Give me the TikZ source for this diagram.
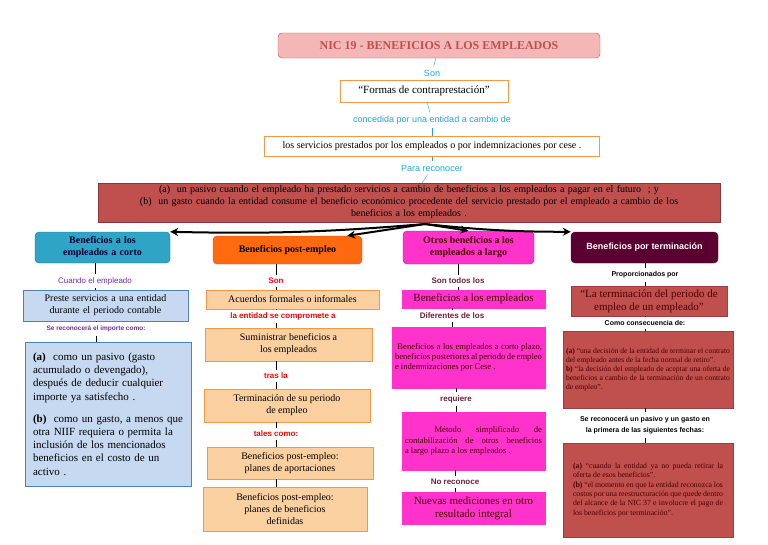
\documentclass[tikz,border=0pt]{standalone}
\usepackage{fontspec}
\usetikzlibrary{arrows.meta,calc}
\setmainfont{Liberation Serif}
\newfontfamily\sansf{Liberation Sans}
\def\F#1{\fontsize{#1pt}{\dimexpr#1pt*6/5\relax}\selectfont}
\hyphenpenalty=10000 \exhyphenpenalty=10000
\begin{document}
\begin{tikzpicture}[x=1pt,y=-1pt,
 bx/.style={draw,rectangle,inner sep=2pt,align=center},
 lab/.style={font=\sansf\F{8}},
 ln/.style={draw=black,line width=0.8pt},
 arr/.style={draw=black,line width=2pt,-{Stealth[length=8pt,width=8pt]}}]
\definecolor{tred}{HTML}{F4B7B7}
\definecolor{brick}{HTML}{C0504D}
\definecolor{lor}{HTML}{FBD0A0}
\definecolor{oline}{HTML}{F79646}
\definecolor{lbl}{HTML}{C6D9F1}
\definecolor{bline}{HTML}{4F81BD}
\definecolor{cyanb}{HTML}{2EA5C4}
\definecolor{orb}{HTML}{FF6A10}
\definecolor{mag}{HTML}{FF33CC}
\definecolor{dkr}{HTML}{5A0030}
\definecolor{cyt}{HTML}{1EA8D8}
\definecolor{pur}{HTML}{7030A0}
\definecolor{mtxt}{HTML}{6E1F3A}
\useasboundingbox[fill=white] (0,0) rectangle (768,544);
\tikzset{r/.style={rounded corners=4pt}}
% top chain
\node[bx,r,fill=tred,draw=brick,minimum width=322,minimum height=25,text=brick,font=\bfseries\F{12}] (t) at (439,45.5) {NIC 19 - BENEFICIOS A LOS EMPLEADOS};
\node[bx,fill=white,draw=oline,line width=1pt,minimum width=168,minimum height=22,font=\F{11}] (f) at (424,91) {``Formas de contraprestación''};
\node[bx,fill=white,draw=oline,line width=1pt,minimum width=335,minimum height=20,font=\F{10}] (s) at (432,146) {los servicios prestados por los empleados o por indemnizaciones por cese~.};
\node[bx,fill=brick,draw=brick!70!black,minimum width=622,minimum height=39,font=\F{10},text width=612] (big) at (409,202.5) {(a)\ \ un pasivo cuando el empleado ha prestado servicios a cambio de beneficios a los empleados a pagar en el futuro \ ; y\\(b)\ \ un gasto cuando la entidad consume el beneficio económico procedente del servicio prestado por el empleado a cambio de los\\beneficios a los empleados~.};
\node[font=\sansf\F{9},text=cyt] (l1) at (432,73) {Son};
\node[font=\sansf\F{9},text=cyt] (l2) at (432,120) {concedida por una entidad a cambio de};
\node[font=\sansf\F{9},text=cyt] (l3) at (432,168) {Para reconocer};
\draw[cyt] (t) -- (l1); \draw[cyt] (l1) -- (f);
\draw[cyt] (f) -- (l2); \draw[cyt] (l2) -- (s);
\draw[cyt] (s) -- (l3); \draw[cyt] (l3) -- (big);
% level-2 headers
\node[bx,r,fill=cyanb,draw=cyanb!70!black,minimum width=135,minimum height=31,font=\bfseries\F{10},text width=120,text=black!80!blue] (c1) at (102.5,247.5) {Beneficios a los\\empleados a corto};
\node[bx,r,fill=orb,draw=orb!80!black,minimum width=149,minimum height=28,font=\bfseries\F{10}] (c2) at (287.5,250) {Beneficios post-empleo};
\node[bx,r,fill=mag,draw=mag!60!black,minimum width=131,minimum height=33,font=\bfseries\F{10},text=black!70!red] (c3) at (468.5,247.5) {Otros beneficios a los\\empleados a largo};
\node[bx,r,fill=dkr,draw=dkr,minimum width=147,minimum height=31,font=\sansf\bfseries\F{9},text=white] (c4) at (644.5,247.5) {Beneficios por terminación};
\coordinate (o) at (425,224);
\draw[arr] (o) to[bend left=3] (c1.north east);
\draw[arr] (o) -- ($(c2.north east)+(-15,0)$);
\draw[arr] (o) -- (c3.north);
\draw[arr] (o) to[bend right=3] (c4.north west);
% column 1
\node[lab,text=pur] (a1) at (95,281) {Cuando el empleado};
\node[bx,fill=lbl,draw=bline,minimum width=165,minimum height=31,font=\F{10},text width=150] (b1) at (105.5,305.5) {Preste servicios a una entidad\\durante el periodo contable};
\node[lab,text=pur,font=\sansf\bfseries\F{6.5}] (a2) at (96,329) {Se reconocerá el importe como:};
\node[bx,fill=lbl,draw=bline,minimum width=166,minimum height=144,font=\F{11},text width=150,align=left] (b2) at (108,414) {\textbf{(a)}\ \ como un pasivo (gasto acumulado o devengado), después de deducir cualquier importe ya satisfecho~.\\[9pt]\textbf{(b)}\ \ como un gasto, a menos que otra NIIF requiera o permita la inclusión de los mencionados beneficios en el costo de un activo~.};
\draw[ln] (c1.south -| a1) -- (a1); \draw[ln] (a1) -- (b1.north -| a1);
\draw[ln] (b1.south -| a2) -- (a2); \draw[ln] (a2) -- (b2.north -| a2);
% column 2
\tikzset{ob/.style={bx,fill=lor,draw=oline,font=\F{10}}}
\node[lab,text=red,font=\sansf\bfseries\F{8}] (p1) at (276,281) {Son};
\node[ob,minimum width=173,minimum height=19] (q1) at (292.5,299.5) {Acuerdos formales o informales};
\node[lab,text=red,font=\sansf\bfseries\F{8}] (p2) at (283,316) {la entidad se compromete a};
\node[ob,minimum width=167,minimum height=33] (q2) at (288.5,344.5) {Suministrar beneficios a\\los empleados};
\node[lab,text=red,font=\sansf\bfseries\F{8}] (p3) at (276,376) {tras la};
\node[ob,minimum width=166,minimum height=33] (q3) at (287,405.5) {Terminación de su periodo\\de empleo};
\node[lab,text=red,font=\sansf\bfseries\F{8}] (p4) at (276,434) {tales como:};
\node[ob,minimum width=166,minimum height=32] (q4) at (290,463) {Beneficios post-empleo:\\planes de aportaciones};
\node[ob,minimum width=164,minimum height=44] (q5) at (285,509) {Beneficios post-empleo:\\planes de beneficios\\definidas};
\draw[ln] (c2.south -| p1) -- (p1); \draw[ln] (p1) -- (q1.north -| p1);
\draw[ln] (q1.south -| p1) -- (p2.north -| p1); \draw[ln] (p2.south -| p1) -- (q2.north -| p1);
\draw[ln] (q2.south -| p3) -- (p3); \draw[ln] (p3) -- (q3.north -| p3);
\draw[ln] (q3.south -| p4) -- (p4); \draw[ln] (p4) -- (q4.north -| p4);
\draw[ln] (q4.south -| p4) -- (q5.north -| p4);
% column 3
\tikzset{mb/.style={bx,fill=mag,draw=mag,text=black!70!red}}
\node[lab,text=mtxt,font=\sansf\bfseries\F{8}] (m1) at (458,281) {Son todos los};
\node[mb,minimum width=143,minimum height=18,font=\F{11}] (n1) at (473.5,299) {Beneficios a los empleados};
\node[lab,text=mtxt,font=\sansf\bfseries\F{8}] (m2) at (452,316) {Diferentes de los};
\node[mb,minimum width=153,minimum height=61,font=\F{8.6},text width=147,align=justify] (n2) at (468.5,357.5) {\ Beneficios a los empleados a corto plazo, beneficios posteriores al periodo de empleo e indemnizaciones por Cese~.};
\node[lab,text=mtxt,font=\sansf\bfseries\F{8}] (m3) at (456,399) {requiere};
\node[mb,minimum width=143,minimum height=58,font=\F{8.6},text width=137,align=justify] (n3) at (473.5,441) {\ \ Método simplificado de contabilización de otros beneficios a largo plazo a los empleados~.};
\node[lab,text=mtxt,font=\sansf\bfseries\F{8}] (m4) at (455,482) {No reconoce};
\node[mb,minimum width=143,minimum height=32,font=\F{11}] (n4) at (473.5,508) {Nuevas mediciones en otro\\resultado integral};
\draw[ln] (c3.south -| m1) -- (m1); \draw[ln] (m1) -- (n1.north -| m1);
\draw[ln] (n1.south -| m2) -- (m2); \draw[ln] (m2) -- (n2.north -| m2);
\draw[ln] (n2.south -| m3) -- (m3); \draw[ln] (m3) -- (n3.north -| m3);
\draw[ln] (n3.south -| m4) -- (m4); \draw[ln] (m4) -- (n4.north -| m4);
% column 4
\tikzset{kb/.style={bx,fill=brick,draw=brick!80!black,text=black!70!red}}
\node[lab,font=\sansf\bfseries\F{7}] (k1) at (645,275) {Proporcionados por};
\node[kb,minimum width=156,minimum height=30,font=\F{11}] (h1) at (649,301) {``La terminación del periodo de\\empleo de un empleado''};
\node[lab,font=\sansf\bfseries\F{7}] (k2) at (645,323) {Como consecuencia de:};
\node[kb,minimum width=170,minimum height=77,font=\F{7.6},text width=164,align=justify] (h2) at (648,369.5) {\textbf{(a)} ``una decisión de la entidad de terminar el contrato del empleado antes de la fecha normal de retiro''.\\\textbf{b)} ``la decisión del empleado de aceptar una oferta de beneficios a cambio de la terminación de un contrato de empleo''.};
\node[lab,font=\sansf\bfseries\F{7},align=center] (k3) at (645,425) {Se reconocerá un pasivo y un gasto en\\[3pt]la primera de las siguientes fechas:};
\node[kb,minimum width=170,minimum height=94,font=\F{7.8},text width=150,align=justify] (h3) at (648,490) {\textbf{(a)} ``cuando la entidad ya no pueda retirar la oferta de esos beneficios''.\\\textbf{(b)} ``el momento en que la entidad reconozca los costos por una reestructuración que quede dentro del alcance de la NIC 37 e involucre el pago de los beneficios por terminación''.};
\draw[ln] (c4.south -| k1) -- (k1); \draw[ln] (k1) -- (h1.north -| k1);
\draw[ln] (h1.south -| k2) -- (k2); \draw[ln] (k2) -- (h2.north -| k2);
\draw[ln] (h2.south -| k3) -- (k3); \draw[ln] (k3) -- (h3.north -| k3);
\end{tikzpicture}
\end{document}
